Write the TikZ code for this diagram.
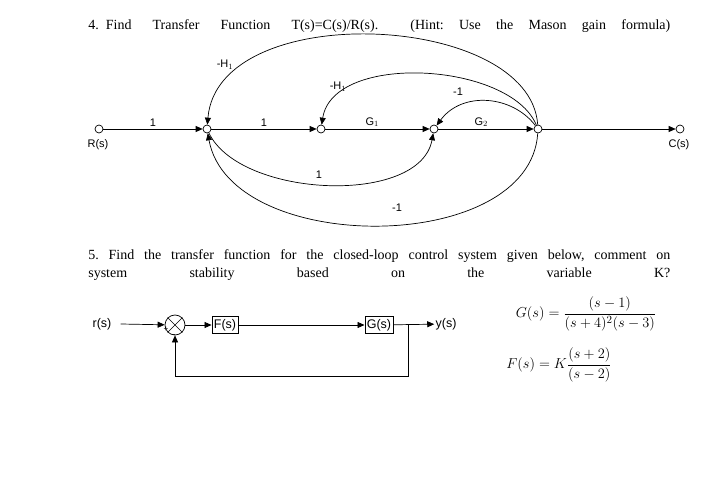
\documentclass[tikz,border=0pt]{standalone}
\usepackage{fontspec}
\setmainfont{Liberation Serif}
\newfontfamily\arial{Liberation Sans}
\usetikzlibrary{arrows.meta}
\begin{document}
\begin{tikzpicture}[x=1pt,y=-1pt,line width=0.7pt,
  sn/.style={circle,draw,inner sep=0pt,minimum size=8pt,fill=white},
  lab/.style={font=\arial\fontsize{11}{12}\selectfont,inner sep=1pt},
  arr/.style={-{Triangle[length=7pt,width=6pt]}},
  blk/.style={draw,font=\arial\fontsize{12.5}{14}\selectfont,inner sep=2pt,minimum height=17pt},
  txt/.style={font=\fontsize{14}{16}\selectfont,inner sep=0pt,anchor=base west}]
\useasboundingbox (0,0) rectangle (723,497);
\node[txt] (t1) at (88,30) {\hbox to 290pt{4.\ \ Find\hfill Transfer\hfill Function\hfill T(s)=C(s)/R(s).}};
\node[txt] (t1b) at (410,30) {\hbox to 260pt{(Hint:\hfill Use\hfill the\hfill Mason\hfill gain\hfill formula)}};
% signal flow graph
\node[sn] (r) at (99,129) {};
\node[sn] (n1) at (207,129) {};
\node[sn] (n2) at (321,129) {};
\node[sn] (n3) at (434,129) {};
\node[sn] (n4) at (538,129) {};
\node[sn] (c) at (680,129) {};
\node[lab] (lr) at (98,145) {R(s)};
\node[lab] (lc) at (679,145) {C(s)};
\draw[arr] (r) -- node[lab,above=1pt]{1} (n1);
\draw[arr] (n1) -- node[lab,above=1pt]{1} (n2);
\draw[arr] (n2) -- node[lab,above=1pt,pos=0.45]{G$_1$} (n3);
\draw[arr] (n3) -- node[lab,above=1pt,pos=0.45]{G$_2$} (n4);
\draw[arr] (n4) .. controls (530,12) and (218,-2) .. (n1);
\draw[arr] (n4) -- (c);
\node[lab] (h1) at (225,65) {-H$_1$};
\draw[arr] (n4) .. controls (510,62) and (333,52) .. (n2);
\node[lab] (h2) at (338,87) {-H$_1$};
\draw[arr] (n4) .. controls (512,95) and (462,91) .. (n3);
\node[lab] (m1) at (458,92) {-1};
\draw[arr] (n1) .. controls (240,198) and (420,206) .. (n3);
\node[lab] (o1) at (319,175) {1};
\draw[arr] (n4) .. controls (530,256) and (230,256) .. (n1);
\node[lab] (m2) at (397,208) {-1};
% Q5
\node[txt] (t2) at (88,260) {\hbox to 582pt{5.\hfill Find\hfill the\hfill transfer\hfill function\hfill for\hfill the\hfill closed-loop\hfill control\hfill system\hfill given\hfill below,\hfill comment\hfill on}};
\node[txt] (t3) at (88,277) {\hbox to 582pt{system\hfill stability\hfill based\hfill on\hfill the\hfill variable\hfill K?}};
% block diagram
\node[lab,font=\arial\fontsize{12.5}{14}\selectfont] (rs) at (102,324) {r(s)};
\node[circle,draw,minimum size=20pt,inner sep=0pt] (sum) at (175,325) {};
\draw (sum.north west) -- (sum.south east) (sum.north east) -- (sum.south west);
\node[font=\arial\fontsize{8}{9}\selectfont] at (166,329) {+};
\node[font=\arial\fontsize{9}{9}\selectfont] at (174,336) {-};
\node[blk] (F) at (225,325) {F(s)};
\node[blk] (G) at (379,325) {G(s)};
\node[lab,font=\arial\fontsize{12.5}{14}\selectfont] (ys) at (446,324) {y(s)};
\coordinate (b) at (408,325);
\coordinate (b2) at (408,376);
\coordinate (b3) at (175,376);
\draw[arr] (rs.east)++(8,0) -- (sum);
\draw[arr] (sum) -- (F);
\draw[arr] (F) -- (G);
\draw[arr] (G) -- (ys);
\draw[arr] (b) -- (b2) -- (b3) -- (sum);
\node[font=\fontsize{15}{17}\selectfont] (eg) at (586,314) {$G(s)=\displaystyle\frac{(s-1)}{(s+4)^2(s-3)}$};
\node[font=\fontsize{15}{17}\selectfont] (ef) at (559,365) {$F(s)=K\displaystyle\frac{(s+2)}{(s-2)}$};
\end{tikzpicture}
\end{document}
